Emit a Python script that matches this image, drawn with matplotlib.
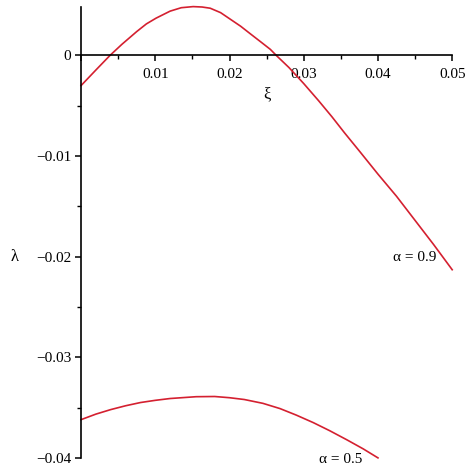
import numpy as np
import matplotlib
matplotlib.use('Agg')
import matplotlib.pyplot as plt
from matplotlib.ticker import MultipleLocator, FuncFormatter

# values
xi_09 = [0.0, 0.002, 0.0039, 0.0055, 0.0075, 0.0088, 0.0101, 0.012, 0.0135, 0.0151,
         0.0163, 0.0174, 0.0188, 0.0201, 0.0215, 0.0228, 0.0242, 0.0255, 0.0263,
         0.028, 0.030, 0.032, 0.0338, 0.0355, 0.0376, 0.040, 0.0425, 0.045, 0.0475, 0.050]
lam_09 = [-0.0030, -0.00145, 0.0, 0.0011, 0.00237, 0.00313, 0.0037, 0.0044, 0.00474, 0.00485,
          0.00481, 0.00469, 0.00425, 0.0036, 0.0029, 0.00215, 0.00135, 0.0006, 0.0,
          -0.0012, -0.0028, -0.0045, -0.0061, -0.0077, -0.0096, -0.0118, -0.0140, -0.0164,
          -0.0188, -0.0213]

xi_05 = [0.0, 0.002, 0.004, 0.006, 0.008, 0.010, 0.012, 0.0155, 0.018, 0.020, 0.022,
         0.0245, 0.0268, 0.029, 0.0313, 0.0335, 0.0358, 0.038, 0.040]
lam_05 = [-0.0362, -0.03565, -0.0352, -0.03482, -0.0345, -0.03428, -0.0341, -0.03392, -0.0339,
          -0.03402, -0.0342, -0.03458, -0.0351, -0.03575, -0.0365, -0.0373, -0.0382, -0.0391,
          -0.0400]

plt.rcParams['font.family'] = ['Liberation Serif', 'DejaVu Serif']

fig = plt.figure(figsize=(4.74, 4.74), dpi=100)
ax = fig.add_axes([0.171, 0.034, 0.783, 0.951])

red = '#d42030'
ax.plot(xi_09, lam_09, color=red, lw=1.2, clip_on=False)
ax.plot(xi_05, lam_05, color=red, lw=1.2, clip_on=False)

ax.set_xlim(0, 0.05)
ax.set_ylim(-0.04, 0.0048)

ax.spines['left'].set_position(('data', 0))
ax.spines['bottom'].set_position(('data', 0))
ax.spines['top'].set_visible(False)
ax.spines['right'].set_visible(False)
for s in ('left', 'bottom'):
    ax.spines[s].set_linewidth(1.2)

ax.xaxis.set_major_locator(MultipleLocator(0.01))
ax.xaxis.set_minor_locator(MultipleLocator(0.005))
ax.yaxis.set_major_locator(MultipleLocator(0.01))
ax.yaxis.set_minor_locator(MultipleLocator(0.005))

def xfmt(v, pos):
    if abs(v) < 1e-9:
        return ''
    return '%.2f' % v

def yfmt(v, pos):
    if abs(v) < 1e-9:
        return '0'
    return ('%.2f' % v).replace('-', '\u2212')

ax.xaxis.set_major_formatter(FuncFormatter(xfmt))
ax.yaxis.set_major_formatter(FuncFormatter(yfmt))
ax.tick_params(which='major', length=4, width=1.1, labelsize=11, direction='out')
ax.tick_params(which='minor', length=3, width=1.0, direction='out')
ax.tick_params(axis='x', pad=5)
ax.tick_params(axis='y', pad=3)

ax.text(0.0251, -0.0039, 'ξ', fontsize=12, ha='center', va='center')
ax.text(-0.0089, -0.0200, 'λ', fontsize=12, ha='center', va='center', clip_on=False)
ax.text(0.0449, -0.0201, 'α = 0.9', fontsize=11, ha='center', va='center')
ax.text(0.0350, -0.0402, 'α = 0.5', fontsize=11, ha='center', va='center', clip_on=False)

fig.savefig('out.png', dpi=100)
